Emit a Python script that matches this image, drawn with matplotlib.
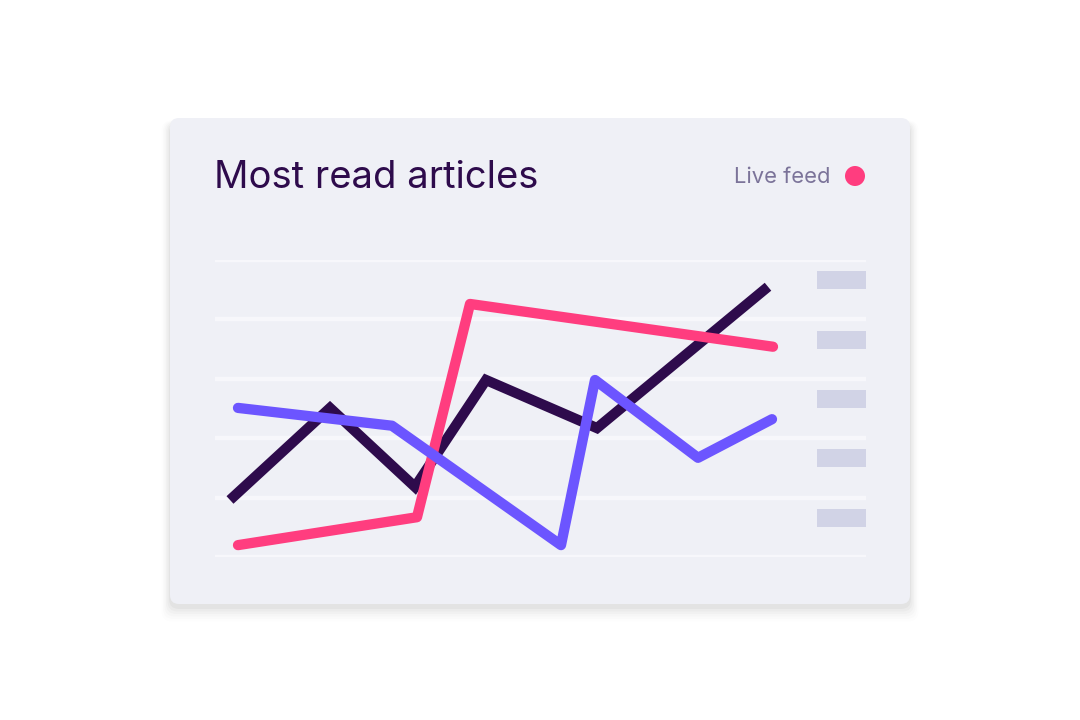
"""Most read articles card: three trend lines on a soft panel."""

import matplotlib.pyplot as plt
from matplotlib.patches import FancyBboxPatch, Circle

W, H = 1080, 720

# series values in grid units (0 = bottom grid line, 5 = top)
dark_x = [1.5, 11.5, 20.0, 27.1, 38.2, 55.3]
dark_y = [0.96, 2.51, 1.18, 2.98, 2.17, 4.55]
pink_x = [2.3, 20.2, 25.5, 55.8]
pink_y = [0.20, 0.67, 4.26, 3.54]
purple_x = [2.3, 17.7, 34.6, 38.0, 48.3, 55.7]
purple_y = [2.51, 2.21, 0.20, 2.98, 1.67, 2.32]
grid_levels = [0, 1, 2, 3, 4, 5]
label_slots = [0.66, 1.66, 2.66, 3.66, 4.66]

TITLE = "Most read articles"
LIVE = "Live feed"

DARK = "#2e0b4c"
PINK = "#ff3d7f"
PURPLE = "#6c55ff"
CARD = "#eff0f6"
GRID = "#f7f7fb"
SLOT = "#d1d3e6"
MUTED = "#7b7399"

plt.rcParams["font.family"] = ["Inter", "DejaVu Sans"]

fig = plt.figure(figsize=(W / 100, H / 100), dpi=100)
fig.patch.set_facecolor("white")

# background layer in pixel units for the card and its shadow
bg = fig.add_axes([0, 0, 1, 1])
bg.set_xlim(0, W)
bg.set_ylim(H, 0)
bg.axis("off")

for i, a in enumerate([0.03, 0.025, 0.02, 0.015, 0.012, 0.008]):
    grow = 2 + i * 3
    bg.add_patch(FancyBboxPatch(
        (170 - grow / 2, 124 - grow / 2 + i), 740 + grow, 484 + grow,
        boxstyle="round,pad=0,rounding_size=10",
        fc="black", ec="none", alpha=a, zorder=1))
bg.add_patch(FancyBboxPatch(
    (170, 118), 740, 486, boxstyle="round,pad=0,rounding_size=9",
    fc=CARD, ec="none", zorder=2))

bg.text(214, 188, TITLE, fontsize=27.5, color=DARK, ha="left",
        va="baseline", zorder=3)
bg.text(831, 183, LIVE, fontsize=15.8, color=MUTED, ha="right",
        va="baseline", zorder=3)
bg.add_patch(Circle((855, 176), 10, fc=PINK, ec="none", zorder=3))

# plot area
ax = fig.add_axes([215 / W, (H - 557) / H, 651 / W, 297 / H])
ax.set_xlim(0, 65.1)
ax.set_ylim(0, 5)
ax.axis("off")
ax.patch.set_alpha(0)

for g in grid_levels:
    ax.axhline(g, color=GRID, lw=3.2, zorder=1, solid_capstyle="butt")

ax.barh(label_slots, 4.9, left=60.2, height=0.30, color=SLOT, zorder=1)

ax.plot(dark_x, dark_y, color=DARK, lw=7.4, solid_capstyle="butt",
        solid_joinstyle="miter", zorder=3)
ax.plot(pink_x, pink_y, color=PINK, lw=7.4, solid_capstyle="round",
        solid_joinstyle="round", zorder=4)
ax.plot(purple_x, purple_y, color=PURPLE, lw=7.4, solid_capstyle="round",
        solid_joinstyle="round", zorder=5)

fig.savefig("out.png", dpi=100, facecolor="white")
